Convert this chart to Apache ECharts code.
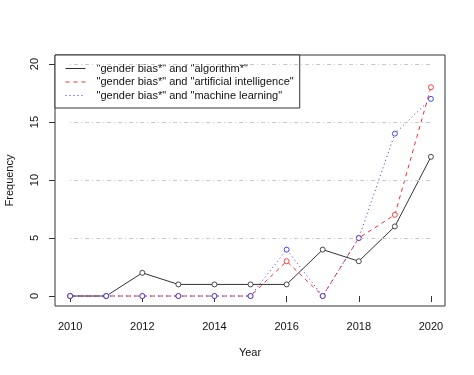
<!DOCTYPE html>
<html>
<head>
<meta charset="utf-8">
<script src="https://cdn.jsdelivr.net/npm/echarts@6/dist/echarts.min.js"></script>
<style>
  html, body { margin: 0; padding: 0; background: #fff; }
  #chart { width: 474px; height: 375px; }
</style>
</head>
<body>
<div id="chart"></div>
<script>
  const years = [2010, 2011, 2012, 2013, 2014, 2015, 2016, 2017, 2018, 2019, 2020]
  const algorithm = [0, 0, 2, 1, 1, 1, 1, 4, 3, 6, 12]
  const artificialIntelligence = [0, 0, 0, 0, 0, 0, 3, 0, 5, 7, 18]
  const machineLearning = [0, 0, 0, 0, 0, 0, 4, 0, 5, 14, 17]
  const xTicks = [2010, 2012, 2014, 2016, 2018, 2020]
  const yTicks = [0, 5, 10, 15, 20]
  const gridValues = [5, 10, 15, 20]
  const seriesNames = [
    '"gender bias*" and "algorithm*"',
    '"gender bias*" and "artificial intelligence"',
    '"gender bias*" and "machine learning"'
  ]
  const colors = ['#333333', '#f03030', '#3030e8']

  const font = 'Liberation Sans, Arial, sans-serif'
  const pairs = (ys) => years.map((y, i) => [y, ys[i]])

  // circle markers drawn as white dots with a thin coloured ring
  const marker = (c) => ({ color: '#fff', borderColor: c, borderWidth: 0.9 })

  let chart = echarts.init(document.getElementById('chart'))
  chart.setOption({
    animation: false,
    color: colors,
    grid: {
      left: 55, top: 55, right: 29, bottom: 69,
      outerBoundsMode: 'none',
      show: true, borderColor: '#333', borderWidth: 1, backgroundColor: 'transparent'
    },
    legend: {
      data: seriesNames,
      orient: 'vertical',
      left: 55,
      top: 55,
      padding: [8, 6, 7, 10],
      itemWidth: 20,
      itemHeight: 11,
      itemGap: 2.5,
      borderColor: '#333',
      borderWidth: 1,
      backgroundColor: '#fff',
      itemStyle: { opacity: 0 },
      lineStyle: { width: 1 },
      textStyle: { fontFamily: font, fontSize: 11, color: '#111', padding: [0, 0, 0, 6] }
    },
    xAxis: {
      type: 'value',
      min: 2009.58,
      max: 2020.39,
      name: 'Year',
      nameLocation: 'middle',
      nameGap: 41,
      nameTextStyle: { fontFamily: font, fontSize: 11, color: '#111' },
      axisLine: { show: false },
      splitLine: { show: false },
      axisTick: { show: true, length: 6, customValues: xTicks, lineStyle: { color: '#333' } },
      axisLabel: { customValues: xTicks, formatter: v => String(v), fontFamily: font, fontSize: 11, color: '#111', margin: 15 }
    },
    yAxis: {
      type: 'value',
      min: -0.86,
      max: 20.78,
      name: 'Frequency',
      nameLocation: 'middle',
      nameGap: 40,
      nameTextStyle: { fontFamily: font, fontSize: 11, color: '#111' },
      axisLine: { show: false },
      splitLine: { show: false },
      axisTick: { show: true, length: 6, customValues: yTicks, lineStyle: { color: '#333' } },
      axisLabel: { customValues: yTicks, rotate: 90, fontFamily: font, fontSize: 11, color: '#111', margin: 15 }
    },
    series: [
      {
        name: seriesNames[0],
        type: 'line',
        data: pairs(algorithm),
        symbol: 'circle',
        symbolSize: 5,
        lineStyle: { width: 1, type: 'solid', color: colors[0] },
        itemStyle: marker(colors[0]),
        markLine: {
          silent: true,
          symbol: 'none',
          label: { show: false },
          lineStyle: { color: '#c8c8c8', width: 1, type: [1, 3, 4, 3] },
          data: gridValues.map(v => [{ coord: [years[0], v] }, { coord: [years[years.length - 1], v] }])
        }
      },
      {
        name: seriesNames[1],
        type: 'line',
        data: pairs(artificialIntelligence),
        symbol: 'circle',
        symbolSize: 5,
        lineStyle: { width: 1, type: [4, 4], color: colors[1] },
        itemStyle: marker(colors[1])
      },
      {
        name: seriesNames[2],
        type: 'line',
        data: pairs(machineLearning),
        symbol: 'circle',
        symbolSize: 5,
        lineStyle: { width: 1, type: [1, 3], color: colors[2] },
        itemStyle: marker(colors[2])
      }
    ]
  })
</script>
</body>
</html>
